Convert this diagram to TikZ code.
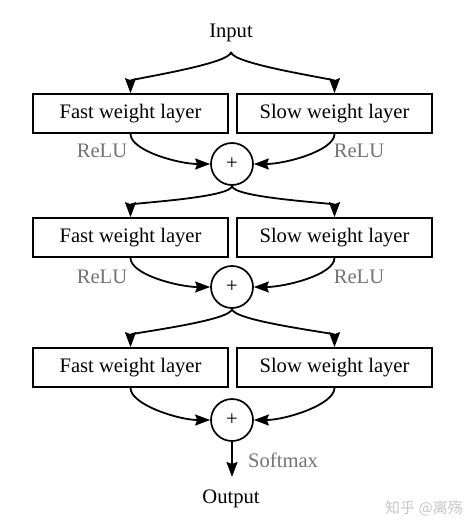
\documentclass[tikz,border=0pt]{standalone}
\usepackage{fontspec}
\setmainfont{Liberation Serif}
\newfontfamily\cjkfont{Noto Sans CJK SC}
\usetikzlibrary{arrows.meta}
\begin{document}
\begin{tikzpicture}[x=1pt,y=-1pt,
  font=\fontsize{20.6}{24}\selectfont,
  layerbox/.style={draw,line width=1.7pt,minimum width=195pt,minimum height=39pt,inner sep=0pt},
  addnode/.style={draw,circle,line width=1.7pt,minimum size=42pt,inner sep=0pt},
  actlabel/.style={text=black!55,inner sep=0pt},
  conn/.style={line width=1.8pt,-{Stealth[length=15pt,width=11pt,inset=2pt]}}]
\useasboundingbox (0,0) rectangle (474,527);
\fill[white] (0,0) rectangle (474,527);
% nodes
\node[inner sep=0pt] (in) at (231,33) {Input};
\coordinate (s0) at (231,52);
\node[layerbox] (f1) at (130.5,113.5) {Fast weight layer};
\node[layerbox] (r1) at (334.5,113.5) {Slow weight layer};
\node[addnode] (p1) at (232,164) {+};
\node[layerbox] (f2) at (130.5,237.5) {Fast weight layer};
\node[layerbox] (r2) at (334.5,237.5) {Slow weight layer};
\node[addnode] (p2) at (232,287) {+};
\node[layerbox] (f3) at (130.5,367.5) {Fast weight layer};
\node[layerbox] (r3) at (334.5,367.5) {Slow weight layer};
\node[addnode] (p3) at (232,420) {+};
\node[inner sep=0pt] (out) at (231,499) {Output};
\coordinate (oe) at (232,477);
% labels
\node[actlabel] (l1) at (102,151) {ReLU};
\node[actlabel] (l2) at (359,151) {ReLU};
\node[actlabel] (l3) at (102,277) {ReLU};
\node[actlabel] (l4) at (359,277) {ReLU};
\node[actlabel,anchor=west] (sm) at (248,460) {Softmax};
\node[text=black!22,inner sep=0pt,font=\cjkfont\fontsize{15}{18}\selectfont] (wm) at (424,508) {知乎 @离殇};
% fork from input
\draw[conn] (s0) .. controls +(0,12) and +(0,-14) .. (f1.north);
\draw[conn] (s0) .. controls +(0,12) and +(0,-14) .. (r1.north);
% row 1 merge
\draw[conn] (f1.south) .. controls +(0,17) and +(-31,0) .. (p1.west);
\draw[conn] (r1.south) .. controls +(0,17) and +(31,0) .. (p1.east);
% fork to row 2
\draw[conn] (p1.south) .. controls +(0,12) and +(0,-14) .. (f2.north);
\draw[conn] (p1.south) .. controls +(0,12) and +(0,-14) .. (r2.north);
% row 2 merge
\draw[conn] (f2.south) .. controls +(0,17) and +(-31,0) .. (p2.west);
\draw[conn] (r2.south) .. controls +(0,17) and +(31,0) .. (p2.east);
% fork to row 3
\draw[conn] (p2.south) .. controls +(0,12) and +(0,-14) .. (f3.north);
\draw[conn] (p2.south) .. controls +(0,12) and +(0,-14) .. (r3.north);
% row 3 merge
\draw[conn] (f3.south) .. controls +(0,17) and +(-31,0) .. (p3.west);
\draw[conn] (r3.south) .. controls +(0,17) and +(31,0) .. (p3.east);
% output
\draw[conn] (p3.south) -- (oe);
\end{tikzpicture}
\end{document}
